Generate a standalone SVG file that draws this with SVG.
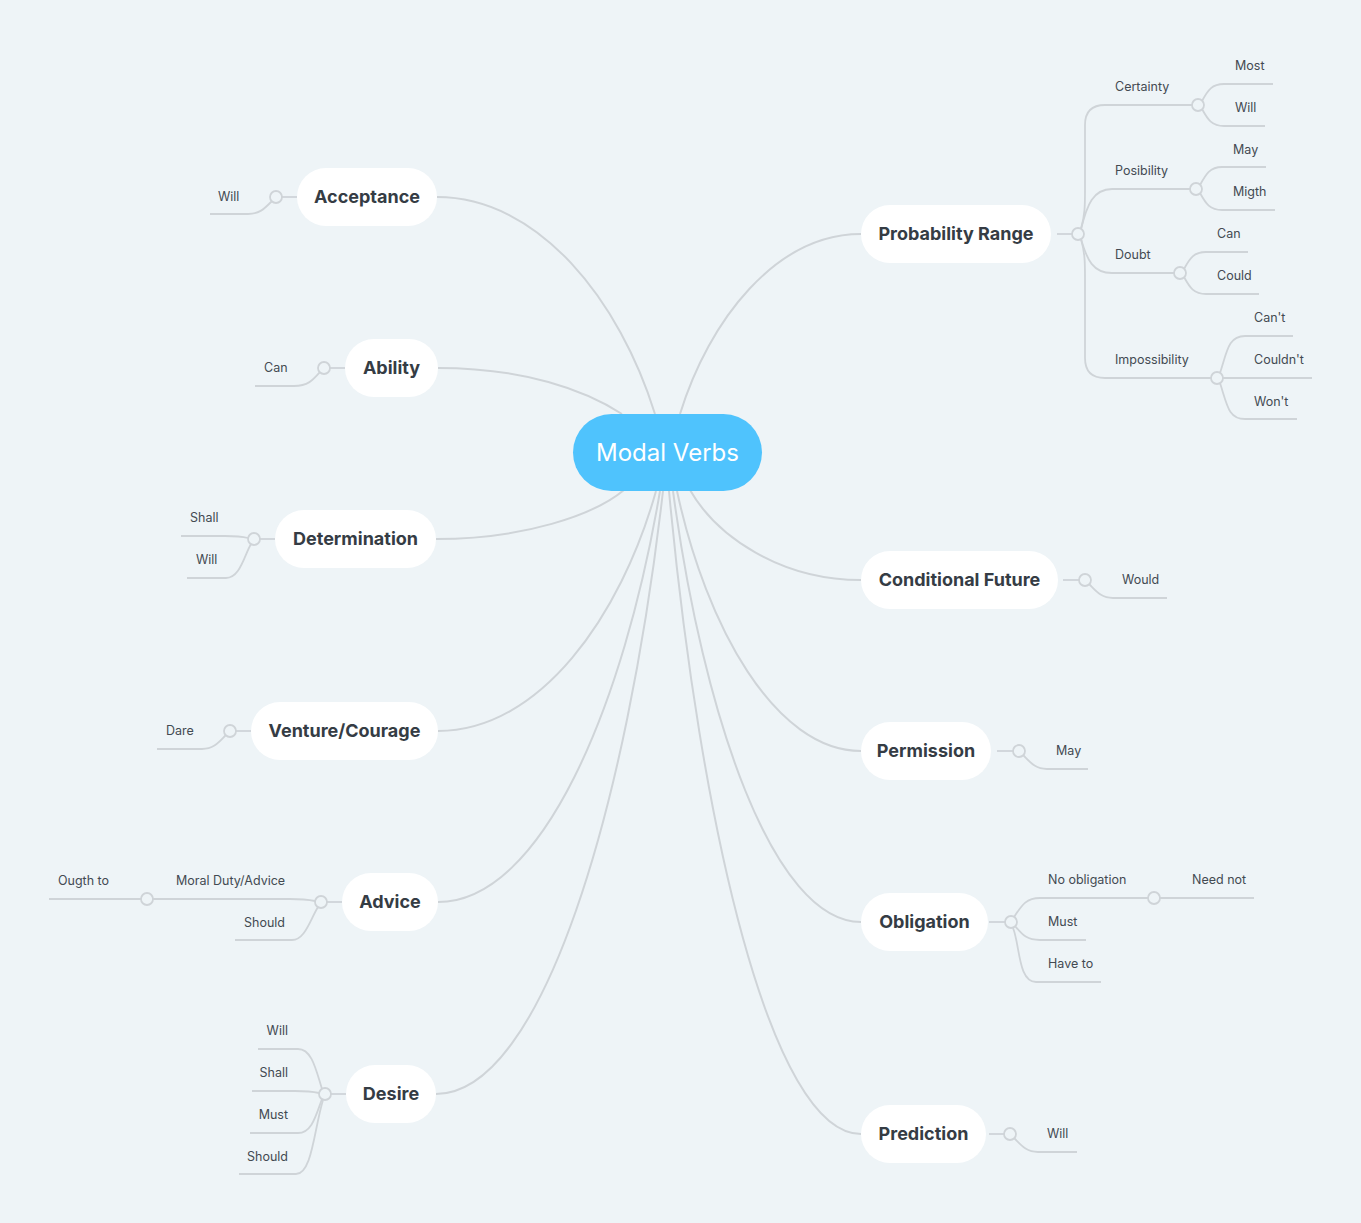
<svg xmlns="http://www.w3.org/2000/svg" width="1361" height="1223" viewBox="0 0 1361 1223">
<style>
.bg{fill:#eef4f7}
.main{stroke:#cfd4d8;stroke-width:2;fill:none}
.sub{stroke:#cfd4d8;stroke-width:1.8;fill:none}
.dot{stroke:#cfd4d8;stroke-width:1.8;fill:#eef4f7}
.box{fill:#ffffff}
.nt{font-family:Inter,"Open Sans","Liberation Sans",sans-serif;font-size:18px;font-weight:700;fill:#353c44;text-anchor:middle}
.st{font-family:Inter,"Open Sans","Liberation Sans",sans-serif;font-size:12.5px;fill:#434a52}
.ct{font-family:Inter,"Open Sans","Liberation Sans",sans-serif;font-size:24px;fill:#ffffff;text-anchor:middle}
</style>
<rect class="bg" x="0" y="0" width="1361" height="1223"/>
<g id="connectors">
  <path class="main" d="M437 197 C539 197 620 301 655 414"/>
  <path class="main" d="M438 368 C524 368 585 390 622 414"/>
  <path class="main" d="M436 539 C524 539 594 515 624 490"/>
  <path class="main" d="M438 731 C540 731 621 616 656 491"/>
  <path class="main" d="M438 902 C542 902 624 705 660 491"/>
  <path class="main" d="M436 1094 C543 1094 627 805 663 491"/>
  <path class="main" d="M861 234 C776 234 709 320 680 414"/>
  <path class="main" d="M861 580 C781 580 717 537 690 490"/>
  <path class="main" d="M861 751 C775 751 706 626 677 491"/>
  <path class="main" d="M861 922 C773 922 703 715 673 491"/>
  <path class="main" d="M861 1134 C771 1134 700 825 669 491"/>
  <path class="sub" d="M297 197 L282 197"/>
  <path class="sub" d="M272 201 C265 208 260 214 248 214 L210 214"/>
  <path class="sub" d="M345 368 L330 368"/>
  <path class="sub" d="M320 372 C313 380 308 386 294 386 L255 386"/>
  <path class="sub" d="M275 539 L260 539"/>
  <path class="sub" d="M248 538 C240 536 235 536 225 536 L181 536"/>
  <path class="sub" d="M251 544 C244 556 240 578 226 578 L187 578"/>
  <path class="sub" d="M251 731 L236 731"/>
  <path class="sub" d="M226 735 C219 742 214 749 202 749 L157 749"/>
  <path class="sub" d="M342 902 L327 902"/>
  <path class="sub" d="M315 901 C305 899 300 899 290 899 L153 899"/>
  <path class="sub" d="M141 899 L49 899"/>
  <path class="sub" d="M318 907 C310 920 305 940 292 940 L235 940"/>
  <path class="sub" d="M346 1094 L331 1094"/>
  <path class="sub" d="M322 1089 C316 1070 312 1049 298 1049 L258 1049"/>
  <path class="sub" d="M319 1093 C310 1091 305 1091 295 1091 L252 1091"/>
  <path class="sub" d="M322 1099 C316 1115 312 1133 298 1133 L250 1133"/>
  <path class="sub" d="M323 1100 C314 1130 312 1174 296 1174 L239 1174"/>
  <path class="sub" d="M1057 234 L1072 234"/>
  <path class="sub" d="M1081 229 C1085 215 1085 205 1085 190 L1085 125 Q1085 105 1105 105 L1192 105"/>
  <path class="sub" d="M1081 229 C1087 205 1093 189 1112 189 L1190 189"/>
  <path class="sub" d="M1081 239 C1087 260 1093 273 1112 273 L1174 273"/>
  <path class="sub" d="M1081 239 C1085 253 1085 263 1085 278 L1085 358 Q1085 378 1105 378 L1211 378"/>
  <path class="sub" d="M1202 101 C1208 90 1212 84 1224 84 L1273 84"/>
  <path class="sub" d="M1202 109 C1208 120 1212 126 1224 126 L1265 126"/>
  <path class="sub" d="M1200 185 C1206 174 1210 167 1222 167 L1266 167"/>
  <path class="sub" d="M1200 193 C1206 204 1210 210 1222 210 L1275 210"/>
  <path class="sub" d="M1184 269 C1190 258 1194 252 1206 252 L1248 252"/>
  <path class="sub" d="M1184 277 C1190 288 1194 294 1206 294 L1259 294"/>
  <path class="sub" d="M1220 373 C1227 352 1228 336 1245 336 L1293 336"/>
  <path class="sub" d="M1223 378 L1312 378"/>
  <path class="sub" d="M1220 383 C1227 404 1228 419 1245 419 L1297 419"/>
  <path class="sub" d="M1063 580 L1079 580"/>
  <path class="sub" d="M1089 584 C1096 591 1101 598 1113 598 L1167 598"/>
  <path class="sub" d="M997 751 L1013 751"/>
  <path class="sub" d="M1023 755 C1030 762 1035 769 1047 769 L1088 769"/>
  <path class="sub" d="M989 922 L1005 922"/>
  <path class="sub" d="M1014 917 C1022 905 1026 898 1040 898 L1148 898"/>
  <path class="sub" d="M1160 898 L1254 898"/>
  <path class="sub" d="M1015 926 C1022 934 1026 940 1040 940 L1086 940"/>
  <path class="sub" d="M1013 928 C1020 945 1018 982 1036 982 L1101 982"/>
  <path class="sub" d="M989 1134 L1004 1134"/>
  <path class="sub" d="M1014 1138 C1021 1145 1026 1152 1038 1152 L1077 1152"/>
  <circle class="dot" cx="276" cy="197" r="6"/>
  <circle class="dot" cx="324" cy="368" r="6"/>
  <circle class="dot" cx="254" cy="539" r="6"/>
  <circle class="dot" cx="230" cy="731" r="6"/>
  <circle class="dot" cx="321" cy="902" r="6"/>
  <circle class="dot" cx="147" cy="899" r="6"/>
  <circle class="dot" cx="325" cy="1094" r="6"/>
  <circle class="dot" cx="1078" cy="234" r="6"/>
  <circle class="dot" cx="1198" cy="105" r="6"/>
  <circle class="dot" cx="1196" cy="189" r="6"/>
  <circle class="dot" cx="1180" cy="273" r="6"/>
  <circle class="dot" cx="1217" cy="378" r="6"/>
  <circle class="dot" cx="1085" cy="580" r="6"/>
  <circle class="dot" cx="1019" cy="751" r="6"/>
  <circle class="dot" cx="1011" cy="922" r="6"/>
  <circle class="dot" cx="1154" cy="898" r="6"/>
  <circle class="dot" cx="1010" cy="1134" r="6"/>
</g>
<g id="center">
  <rect x="573" y="414" width="189" height="77" rx="38.5" fill="#4fc3fd"/>
  <text class="ct" x="667.5" y="461">Modal Verbs</text>
</g>
<g id="acceptance">
  <rect class="box" x="297" y="168" width="140" height="58" rx="29"/>
  <text class="nt" x="367" y="203">Acceptance</text>
  <text class="st" x="218" y="201">Will</text>
</g>
<g id="ability">
  <rect class="box" x="345" y="339" width="93" height="58" rx="29"/>
  <text class="nt" x="391.5" y="374">Ability</text>
  <text class="st" x="264" y="372">Can</text>
</g>
<g id="determination">
  <rect class="box" x="275" y="510" width="161" height="58" rx="29"/>
  <text class="nt" x="355.5" y="545">Determination</text>
  <text class="st" x="190" y="522">Shall</text>
  <text class="st" x="196" y="564">Will</text>
</g>
<g id="venture">
  <rect class="box" x="251" y="702" width="187" height="58" rx="29"/>
  <text class="nt" x="344.5" y="737">Venture/Courage</text>
  <text class="st" x="166" y="735">Dare</text>
</g>
<g id="advice">
  <rect class="box" x="342" y="873" width="96" height="58" rx="29"/>
  <text class="nt" x="390" y="908">Advice</text>
  <text class="st" x="176" y="885">Moral Duty/Advice</text>
  <text class="st" x="58" y="885">Ougth to</text>
  <text class="st" x="244" y="927">Should</text>
</g>
<g id="desire">
  <rect class="box" x="346" y="1065" width="90" height="58" rx="29"/>
  <text class="nt" x="391" y="1100">Desire</text>
  <text class="st" x="288" y="1035" text-anchor="end">Will</text>
  <text class="st" x="288" y="1077" text-anchor="end">Shall</text>
  <text class="st" x="288" y="1119" text-anchor="end">Must</text>
  <text class="st" x="288" y="1161" text-anchor="end">Should</text>
</g>
<g id="probability">
  <rect class="box" x="861" y="205" width="190" height="58" rx="29"/>
  <text class="nt" x="956" y="240">Probability Range</text>
  <text class="st" x="1115" y="91">Certainty</text>
  <text class="st" x="1235" y="70">Most</text>
  <text class="st" x="1235" y="112">Will</text>
  <text class="st" x="1115" y="175">Posibility</text>
  <text class="st" x="1233" y="154">May</text>
  <text class="st" x="1233" y="196">Migth</text>
  <text class="st" x="1115" y="259">Doubt</text>
  <text class="st" x="1217" y="238">Can</text>
  <text class="st" x="1217" y="280">Could</text>
  <text class="st" x="1115" y="364">Impossibility</text>
  <text class="st" x="1254" y="322">Can't</text>
  <text class="st" x="1254" y="364">Couldn't</text>
  <text class="st" x="1254" y="406">Won't</text>
</g>
<g id="conditional">
  <rect class="box" x="861" y="551" width="197" height="58" rx="29"/>
  <text class="nt" x="959.5" y="586">Conditional Future</text>
  <text class="st" x="1122" y="584">Would</text>
</g>
<g id="permission">
  <rect class="box" x="861" y="722" width="130" height="58" rx="29"/>
  <text class="nt" x="926" y="757">Permission</text>
  <text class="st" x="1056" y="755">May</text>
</g>
<g id="obligation">
  <rect class="box" x="861" y="893" width="127" height="58" rx="29"/>
  <text class="nt" x="924.5" y="928">Obligation</text>
  <text class="st" x="1048" y="884">No obligation</text>
  <text class="st" x="1192" y="884">Need not</text>
  <text class="st" x="1048" y="926">Must</text>
  <text class="st" x="1048" y="968">Have to</text>
</g>
<g id="prediction">
  <rect class="box" x="861" y="1105" width="125" height="58" rx="29"/>
  <text class="nt" x="923.5" y="1140">Prediction</text>
  <text class="st" x="1047" y="1138">Will</text>
</g>
</svg>
